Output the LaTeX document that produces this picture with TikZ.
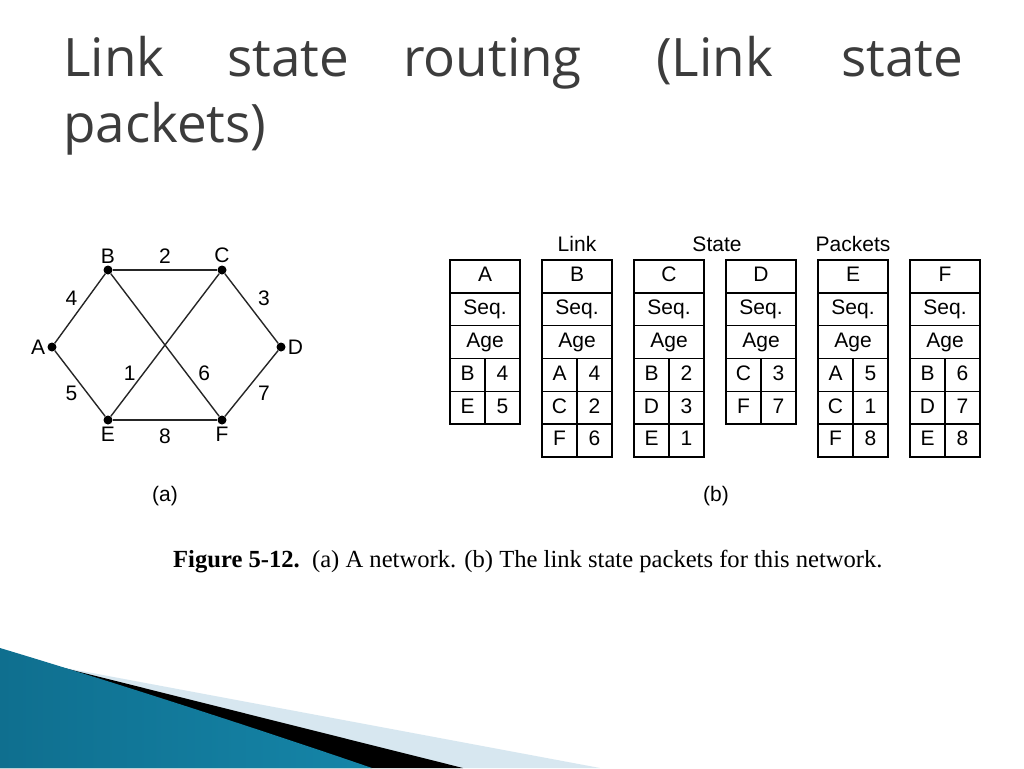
\documentclass[tikz,border=0pt]{standalone}
\usepackage{fontspec}
\setmainfont{Liberation Sans}
\newfontfamily\titlefont{Open Sans}
\newfontfamily\capfont{Liberation Serif}
\usetikzlibrary{positioning}
\definecolor{titlegray}{HTML}{3C3C3C}
\definecolor{tealdark}{HTML}{0F6F8F}
\definecolor{teallight}{HTML}{52B5D5}
\definecolor{tealmid}{HTML}{1585A8}
\definecolor{paleblue}{HTML}{D7E7F0}

\begin{document}
\begin{tikzpicture}[x=1pt, y=-1pt]
        \tikzset{vertex/.style={circle, fill, inner sep=0pt, minimum size=9pt}}
        \tikzset{link/.style={line width=1.4pt, draw=black!85}}
        \tikzset{wlabel/.style={font=\fontsize{21}{21}\selectfont, inner sep=2pt}}
        \tikzset{cell/.style={draw, line width=1.4pt, outer sep=0pt, inner sep=0pt,
            minimum width=70pt, minimum height=32.8pt, text height=15pt, text depth=4pt,
            font=\fontsize{21}{21}\selectfont}}
        \tikzset{halfcell/.style={cell, minimum width=35pt}}
        \tikzset{titleword/.style={anchor=base west, inner sep=0pt, text=titlegray,
            font=\titlefont\fontsize{53}{53}\selectfont}}

        \useasboundingbox [fill=white] (0,0) rectangle (1024,768);

        % title
        \foreach \w/\x/\y in {{Link}/63/77, {state}/227/77, {routing}/403/77, {(Link}/656/77, {state}/841/77, {packets)}/63/142} {
            \node [titleword] at (\x,\y) {\w};
        }

        % (a) the network
        \node [vertex, label={[wlabel]left:A}] (A) at (52,347) {};
        \node [vertex, label={[wlabel]above:B}] (B) at (108,270) {};
        \node [vertex, label={[wlabel]above:C}] (C) at (222,270) {};
        \node [vertex, label={[wlabel]right:D}] (D) at (281,347) {};
        \node [vertex, label={[wlabel]below:E}] (E) at (108,420) {};
        \node [vertex, label={[wlabel]below:F}] (F) at (222,420) {};

        \draw [link] (A) -- node [wlabel, above left] {4} (B);
        \draw [link] (B) -- node [wlabel, above, yshift=4pt] {2} (C);
        \draw [link] (C) -- node [wlabel, above right, xshift=4pt] {3} (D);
        \draw [link] (A) -- node [wlabel, below left] {5} (E);
        \draw [link] (D) -- node [wlabel, below right, xshift=4pt] {7} (F);
        \draw [link] (E) -- node [wlabel, below, yshift=-6pt] {8} (F);
        \draw [link] (E) -- node [wlabel, pos=0.3, left, xshift=-5pt] {1} (C);
        \draw [link] (B) -- node [wlabel, pos=0.7, right, xshift=9pt] {6} (F);

        \node [wlabel] (capa) at (165,496) {(a)};

        % (b) the link state packets
        \foreach \p/\x/\nbrs in {A/450/{B/4,E/5}, B/542/{A/4,C/2,F/6}, C/634/{B/2,D/3,E/1},
                                 D/726/{C/3,F/7}, E/818/{A/5,C/1,F/8}, F/910/{B/6,D/7,E/8}} {
            \node [cell, anchor=north west] (h\p) at (\x,260) {\p};
            \node [cell, below=0pt of h\p] (s\p) {Seq.};
            \node [cell, below=0pt of s\p] (a\p) {Age};
            \foreach \n/\d [count=\i] in \nbrs {
                \node [halfcell, anchor=north west] (n\p\i) at ({\x},{358.4+32.8*(\i-1)}) {\n};
                \node [halfcell, right=0pt of n\p\i] (d\p\i) {\d};
            }
        }

        \node [wlabel] (hlink) at (577,244) {Link};
        \node [wlabel] (hstate) at (717,244) {State};
        \node [wlabel] (hpackets) at (853,244) {Packets};
        \node [wlabel] (capb) at (716,496) {(b)};

        % caption
        \node [anchor=base west, inner sep=0pt, font=\capfont\fontsize{24.6}{24.6}\selectfont] (caption) at (173,567)
            {\textbf{Figure 5-12.}\ \ (a) A network. (b) The link state packets for this network.};

        % bottom decoration
        \fill [paleblue] (60,667) -- (600,768) -- (0,768) -- cycle;
        \fill [black] (60,667) -- (463,768) -- (0,768) -- cycle;
        \shade [left color=tealdark, middle color=teallight, right color=tealmid]
            (0,648) .. controls (100,678) and (250,726) .. (372,768) -- (0,768) -- cycle;
\end{tikzpicture}
\end{document}
